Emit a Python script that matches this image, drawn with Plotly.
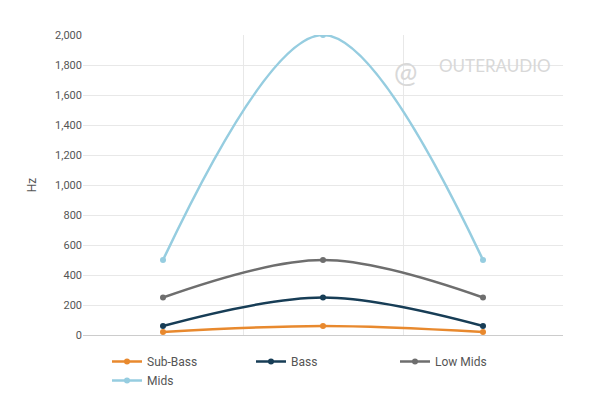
import plotly.graph_objects as go

categories = [0, 1, 2]
sub_bass = [20, 60, 20]
bass = [60, 250, 60]
low_mids = [250, 500, 250]
mids = [500, 2000, 500]

series = [
    ("Sub-Bass", sub_bass, "#e8892e"),
    ("Bass", bass, "#173d56"),
    ("Low Mids", low_mids, "#6e6e6e"),
    ("Mids", mids, "#96cde0"),
]

fig = go.Figure()
for name, vals, col in series:
    fig.add_trace(go.Scatter(x=categories, y=vals, name=name, mode="lines+markers",
                             line=dict(color=col, width=2.5, shape="spline", smoothing=1.0),
                             marker=dict(size=6, color=col)))

fig.add_annotation(text="OUTERAUDIO", xref="paper", yref="paper", x=0.98, y=0.94,
                   showarrow=False, font=dict(size=17, color="#d8d8d8", family="Lato"),
                   xanchor="right")
fig.add_annotation(text="@", xref="paper", yref="paper", x=0.70, y=0.94,
                   showarrow=False, font=dict(size=28, color="#d8d8d8", family="Lato"))

fig.update_layout(
    width=600, height=419, plot_bgcolor="white", paper_bgcolor="white",
    margin=dict(l=75, r=45, t=27, b=92),
    font=dict(family="Roboto", size=11, color="#555"),
    xaxis=dict(range=[-0.5, 2.5], tickvals=[0.5, 1.5], ticktext=["", ""],
               showgrid=True, gridcolor="#e8e8e8", showline=True, linecolor="#cccccc",
               zeroline=False),
    yaxis=dict(range=[0, 2000], dtick=200, tickformat=",", showgrid=True,
               gridcolor="#e8e8e8", zeroline=False, showline=False,
               title=dict(text="Hz", font=dict(size=12, color="#555"))),
    legend=dict(orientation="h", x=0.05, y=-0.04, yanchor="top", xanchor="left",
                entrywidth=0.3, entrywidthmode="fraction", font=dict(size=12, color="#555")),
)

fig.write_html("out.html")
